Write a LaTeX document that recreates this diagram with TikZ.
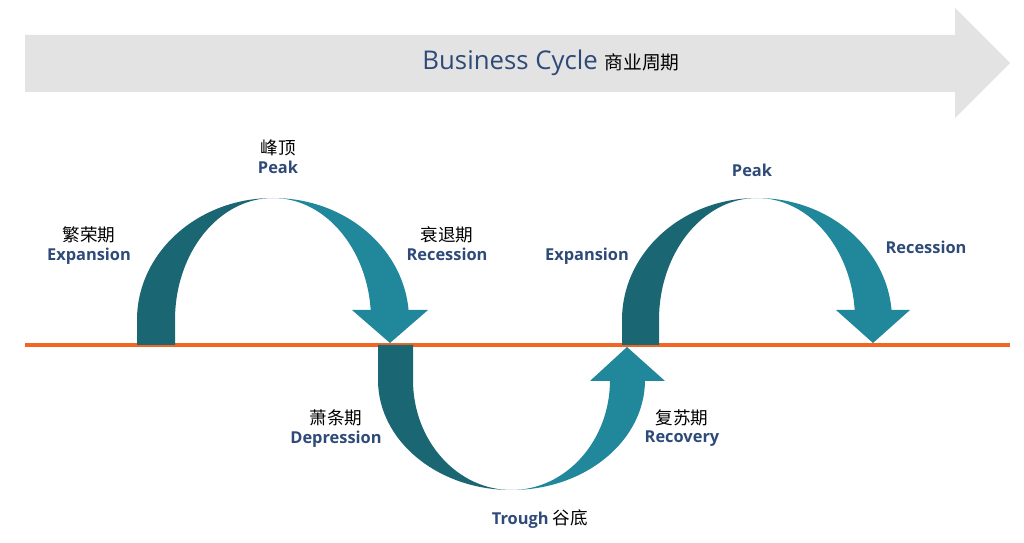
\documentclass[tikz,border=0pt]{standalone}
\usepackage{fontspec}
\setmainfont{Open Sans}
\newfontfamily\cjk{Noto Sans CJK SC}
\usetikzlibrary{positioning}
\definecolor{bandDark}{HTML}{1B6673}
\definecolor{bandLight}{HTML}{21879A}
\definecolor{labelBlue}{HTML}{2E4A78}
\definecolor{axisOrange}{HTML}{F26522}
\definecolor{bannerGray}{HTML}{E3E3E3}
\tikzset{
  en/.style={font=\fontsize{14}{15}\selectfont\bfseries, text=labelBlue, inner sep=1pt},
  cn/.style={font=\cjk\fontsize{15}{16}\selectfont, text=black, inner sep=1pt},
}
\begin{document}
\begin{tikzpicture}[x=0.03cm, y=-0.03cm]
        \useasboundingbox (0,0) rectangle (1024,543);
        % banner
        \fill[bannerGray] (25,35) -- (955,35) -- (955,8) -- (1010,63) -- (955,118) -- (955,92) -- (25,92) -- cycle;
        \node (Title) at (551,63) {\fontsize{22}{24}\selectfont\color{labelBlue}Business Cycle {\cjk\fontsize{16}{18}\selectfont\color{black} 商业周期}};
        % axis
        \draw[axisOrange, line width=3pt] (25,345) -- (1010,345);
        % first arc (up)
        \fill[bandDark] (137,345) -- (137,320) arc[start angle=180, end angle=270, x radius=136, y radius=122]
              arc[start angle=270, end angle=180, x radius=98, y radius=122] -- (175,345) -- cycle;
        \fill[bandLight] (273,198) arc[start angle=270, end angle=360, x radius=136, y radius=122]
              -- (371,320) arc[start angle=360, end angle=270, x radius=98, y radius=122] -- cycle;
        \fill[bandLight] (352,310) -- (428,310) -- (390,343) -- cycle;
        % second arc (down)
        \fill[bandDark] (378,345) -- (378,380) arc[start angle=180, end angle=90, x radius=133.5, y radius=110]
              arc[start angle=90, end angle=180, x radius=98.5, y radius=110] -- (413,345) -- cycle;
        \fill[bandLight] (511.5,490) arc[start angle=90, end angle=0, x radius=133.5, y radius=110]
              -- (610,380) arc[start angle=0, end angle=90, x radius=98.5, y radius=110] -- cycle;
        \fill[bandLight] (590,381) -- (665,381) -- (627,347) -- cycle;
        % third arc (up)
        \fill[bandDark] (622,345) -- (622,320) arc[start angle=180, end angle=270, x radius=135, y radius=122]
              arc[start angle=270, end angle=180, x radius=98, y radius=122] -- (659,345) -- cycle;
        \fill[bandLight] (757,198) arc[start angle=270, end angle=360, x radius=135, y radius=122]
              -- (855,320) arc[start angle=360, end angle=270, x radius=98, y radius=122] -- cycle;
        \fill[bandLight] (836,310) -- (910,310) -- (873,343) -- cycle;
        % labels
        \node[cn] (PeakCn) at (278,148) {峰顶};
        \node[en] (Peak) [below=2pt of PeakCn] {Peak};
        \node[cn] (ExpCn) at (89,235) {繁荣期};
        \node[en] (Exp) [below=2pt of ExpCn] {Expansion};
        \node[cn] (RecCn) at (447,235) {衰退期};
        \node[en] (Rec) [below=2pt of RecCn] {Recession};
        \node[en] (Exp2) at (587,256) {Expansion};
        \node[en] (Peak2) at (752,170) {Peak};
        \node[en] (Rec2) at (926,247) {Recession};
        \node[cn] (DepCn) at (336,418) {萧条期};
        \node[en] (Dep) [below=2pt of DepCn] {Depression};
        \node[cn] (RcvCn) at (682,418) {复苏期};
        \node[en] (Rcv) [below=2pt of RcvCn] {Recovery};
        \node[en] (Trough) at (540,519) {Trough {\cjk\mdseries\fontsize{15}{16}\selectfont\color{black} 谷底}};
\end{tikzpicture}
\end{document}
